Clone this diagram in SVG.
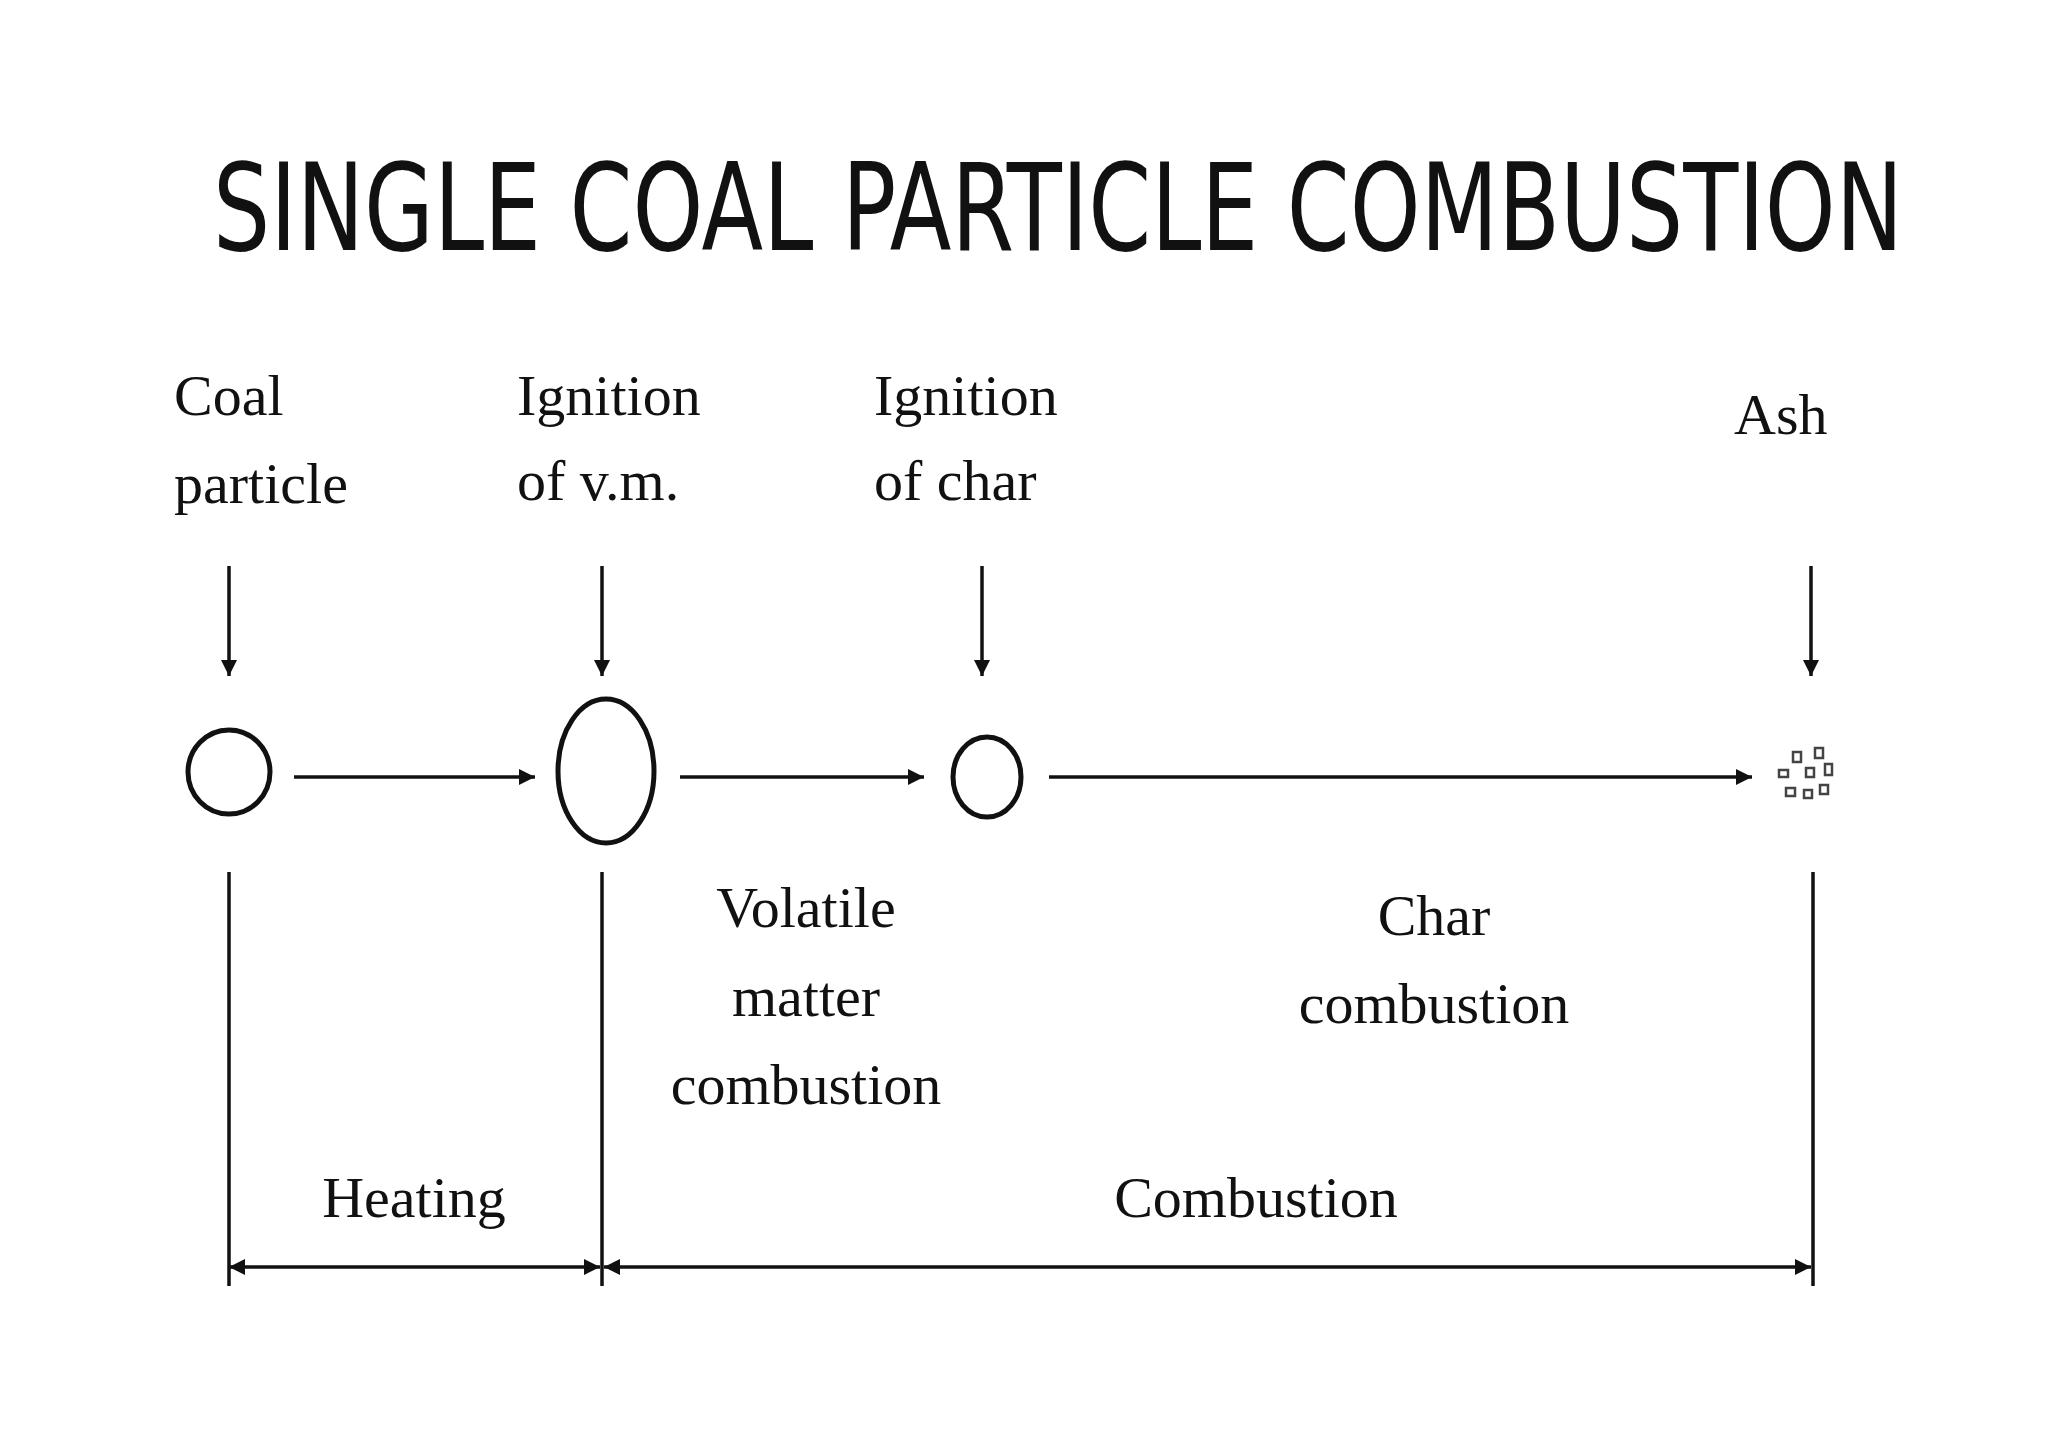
<svg xmlns="http://www.w3.org/2000/svg" width="2048" height="1448" viewBox="0 0 2048 1448">
<style>
.t{font-family:"Liberation Serif",serif;font-size:58px;fill:#111}
.c{text-anchor:middle}
.l{stroke:#111;stroke-width:3.5;fill:none}
.p{stroke:#111;stroke-width:5;fill:none}
</style>
<defs><marker id="a" viewBox="0 0 10 10" refX="10" refY="5" markerWidth="7" markerHeight="7" orient="auto-start-reverse" markerUnits="userSpaceOnUse"><path d="M0,0L10,5L0,10z" fill="#111"/></marker>
<marker id="b" viewBox="0 0 10 10" refX="10" refY="5" markerWidth="20" markerHeight="16" orient="auto-start-reverse" markerUnits="userSpaceOnUse"><path d="M0,0L10,5L0,10z" fill="#111"/></marker></defs>
<rect width="2048" height="1448" fill="#fff"/>
<text x="213" y="250" font-family="DejaVu Sans Condensed,DejaVu Sans,sans-serif" font-size="122" textLength="1690" lengthAdjust="spacingAndGlyphs" fill="#111">SINGLE COAL PARTICLE COMBUSTION</text>
<g id="n1"><text class="t" x="174" y="415">Coal</text><text class="t" x="174" y="503">particle</text><ellipse class="p" cx="229" cy="772" rx="41" ry="42"/></g>
<g id="n2"><text class="t" x="517" y="415">Ignition</text><text class="t" x="517" y="500">of v.m.</text><ellipse class="p" cx="606" cy="771" rx="48" ry="72"/></g>
<g id="n3"><text class="t" x="874" y="415">Ignition</text><text class="t" x="874" y="500">of char</text><ellipse class="p" cx="987" cy="777" rx="34" ry="40"/></g>
<g id="n4"><text class="t" x="1734" y="434">Ash</text>
<g stroke="#444" stroke-width="2.5" fill="none"><rect x="1793" y="752" width="8" height="10"/><rect x="1815" y="748" width="8" height="10"/><rect x="1779" y="770" width="9" height="7"/><rect x="1806" y="768" width="8" height="9"/><rect x="1825" y="764" width="7" height="11"/><rect x="1786" y="788" width="9" height="8"/><rect x="1804" y="790" width="8" height="8"/><rect x="1820" y="785" width="8" height="9"/></g></g>
<g id="labels"><text class="t c" x="806" y="927">Volatile</text><text class="t c" x="806" y="1016">matter</text><text class="t c" x="806" y="1104">combustion</text>
<text class="t c" x="1434" y="935">Char</text><text class="t c" x="1434" y="1023">combustion</text>
<text class="t c" x="414" y="1217">Heating</text><text class="t c" x="1256" y="1217">Combustion</text></g>
<g id="connectors">
<line class="l" x1="229" y1="566" x2="229" y2="676" marker-end="url(#b)"/>
<line class="l" x1="602" y1="566" x2="602" y2="676" marker-end="url(#b)"/>
<line class="l" x1="982" y1="566" x2="982" y2="676" marker-end="url(#b)"/>
<line class="l" x1="1811" y1="566" x2="1811" y2="676" marker-end="url(#b)"/>
<line class="l" x1="294" y1="777" x2="535" y2="777" marker-end="url(#b)"/>
<line class="l" x1="680" y1="777" x2="924" y2="777" marker-end="url(#b)"/>
<line class="l" x1="1049" y1="777" x2="1752" y2="777" marker-end="url(#b)"/>
<line class="l" x1="229" y1="872" x2="229" y2="1286"/>
<line class="l" x1="602" y1="872" x2="602" y2="1286"/>
<line class="l" x1="1813" y1="872" x2="1813" y2="1286"/>
<line class="l" x1="229" y1="1267" x2="600" y2="1267" marker-start="url(#b)" marker-end="url(#b)"/>
<line class="l" x1="604" y1="1267" x2="1811" y2="1267" marker-start="url(#b)" marker-end="url(#b)"/>
</g>
</svg>
